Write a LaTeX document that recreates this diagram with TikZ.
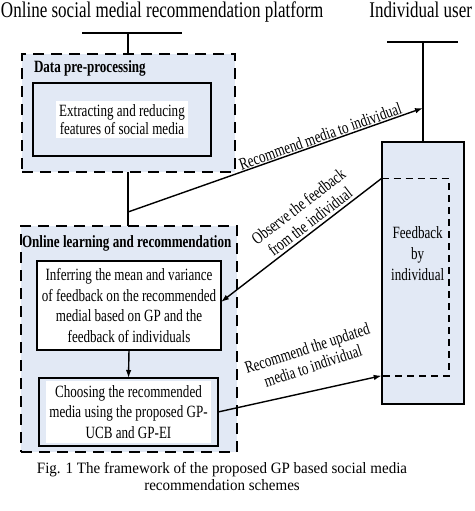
\documentclass[tikz,border=0pt]{standalone}
\usepackage{fontspec}
\setmainfont{Liberation Serif}[FakeStretch=0.76]
\newfontfamily\capfont{Liberation Serif}[FakeStretch=0.95]
\usetikzlibrary{arrows.meta}
\definecolor{boxfill}{RGB}{226,233,245}
\begin{document}
\begin{tikzpicture}[x=1pt,y=-1pt,
  every node/.style={inner sep=0pt, outer sep=0pt},
  body/.style={font=\fontsize{17.2}{20.5}\selectfont, align=center},
  head/.style={font=\fontsize{17.2}{20}\selectfont\bfseries, anchor=base west},
  titl/.style={font=\fontsize{22.4}{24}\selectfont},
  outerbox/.style={draw, line width=2.6pt, dash pattern=on 11pt off 7pt, fill=boxfill},
  innerbox/.style={draw, line width=2.6pt},
  life/.style={line width=2.4pt},
  msg/.style={line width=1.4pt, -{Latex[length=8pt,width=5.5pt]}},
  lbl/.style={font=\fontsize{17.2}{19}\selectfont, align=center},
]
\useasboundingbox (0,0) rectangle (474,511);

% titles
\node[titl, anchor=base west] (tp) at (1,18) {Online social medial recommendation platform};
\node[titl, anchor=base east] (tu) at (472,18) {Individual user};

% left lifeline
\coordinate (ll) at (82,33);
\coordinate (lr) at (182,33);
\coordinate (lt) at (128,33);

% data pre-processing
\node[outerbox, minimum width=213, minimum height=118] (dp) at (128.5,113) {};
\node[head] (dph) at (34,72) {Data pre-processing};
\node[innerbox, fill=boxfill, minimum width=178, minimum height=73] (ex) at (122,119.5) {};
\node[body, font=\fontsize{17.2}{18}\selectfont, fill=white, inner xsep=3pt, inner ysep=3pt] (ext) at (ex.center) {Extracting and reducing\\features of social media};

% online learning
\node[outerbox, minimum width=216, minimum height=226] (ol) at (129,339) {};
\node[head] (olh) at (22,247) {Online learning and recommendation};
\node[innerbox, fill=white, minimum width=184, minimum height=89] (A) at (129,305.5) {};
\node[body] (At) at (A.center) {Inferring the mean and variance\\of feedback on the recommended\\medial based on GP and the\\feedback of individuals};
\node[innerbox, fill=boxfill, minimum width=179, minimum height=68] (B) at (128.5,412) {};
\node[body, fill=white, inner xsep=3pt, inner ysep=4pt] (Bt) at (B.center) {Choosing the recommended\\media using the proposed GP-\\UCB and GP-EI};

\draw[life] (ll) -- (lr);
\draw[life] (lt) -- (lt |- dp.north);
\draw[life] (lt |- dp.south) -- (lt |- ol.north);
\draw[msg] (A.south) -- (B.north);

% individual user
\coordinate (rl) at (387,42);
\coordinate (rr) at (458,42);
\coordinate (rt) at (423,42);
\node[draw, line width=2.2pt, fill=boxfill, minimum width=82.3, minimum height=262.3] (ub) at (422.85,272.85) {};
\coordinate (fdtl) at (381.7,178.3);
\coordinate (fdtr) at (449,178.3);
\coordinate (fdbr) at (449,375.7);
\coordinate (fdbl) at (381.7,375.7);
\draw[line width=1.6pt, dash pattern=on 7pt off 5pt] (fdtl) -- (fdtr) -- (fdbr) -- (fdbl);
\node[body, font=\fontsize{17.2}{21}\selectfont] (fb) at (417.7,254) {Feedback\\by\\individual};
\draw[life] (rl) -- (rr);
\draw[life] (rt) -- (rt |- ub.north);

% messages
\coordinate (a1s) at (128,212);
\coordinate (a1e) at (423,108);
\draw[msg] (a1s) -- node[lbl, sloped, above=1.5pt, pos=0.66] (l1) {Recommend media to individual} (a1e);
\draw[msg] (fdtl) -- node[lbl, sloped, above=3.5pt, pos=0.41] (l2) {Observe the feedback\\from the individual} ([yshift=3.5pt]A.east);
\draw[msg] (B.east) -- (fdbl);
\node[lbl, font=\fontsize{17.2}{18.5}\selectfont, rotate=18] (l3) at (310,357) {Recommend the updated\\media to individual};

% caption
\node[font=\capfont\fontsize{15.8}{17.5}\selectfont, align=center] (cap) at (222,476.5) {Fig. 1 The framework of the proposed GP based social media\\recommendation schemes};
\end{tikzpicture}
\end{document}
